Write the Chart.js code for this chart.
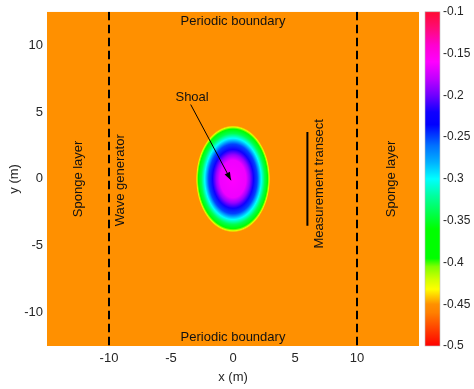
<!DOCTYPE html>
<html>
<head>
<meta charset="utf-8">
<script src="https://cdn.jsdelivr.net/npm/chart.js@4.4.1/dist/chart.umd.min.js"></script>
<style>
  html, body { margin: 0; padding: 0; background: #fff; }
  #wrap { width: 474px; height: 389px; }
</style>
</head>
<body>
<div id="wrap"><canvas id="bathy"></canvas></div>
<script>
// axis ranges and ticks
const xRange = [-15, 15];
const yRange = [-12.5, 12.5];
const cRange = [-0.5, -0.1];
const xTicks = [-10, -5, 0, 5, 10];
const yTicks = [-10, -5, 0, 5, 10];
const cTicks = [-0.5, -0.45, -0.4, -0.35, -0.3, -0.25, -0.2, -0.15, -0.1];

// bed elevation (m): flat bottom + elliptic shoal
const bedLevel = -0.45;
const shoalCenter = [0, 0];
const shoalAxes = [3, 4]; // semi-axes along x and y (m)
// profile read across the shoal: fraction of the ellipse radius -> level
const shoalR = [0, 0.35, 0.45, 0.55, 0.65, 0.76, 0.85, 0.93, 0.97, 1];
const shoalZ = [-0.16, -0.165, -0.19, -0.22, -0.25, -0.3, -0.34, -0.37, -0.425, -0.45];

// colormap
const cmapVal = [-0.5, -0.48, -0.46, -0.45, -0.445, -0.432, -0.42, -0.405, -0.395, -0.36, -0.34, -0.32, -0.3, -0.28, -0.26, -0.235, -0.22, -0.2, -0.18, -0.16, -0.14, -0.12, -0.1];
const cmapCol = ['#ff0000', '#ff4000', '#ff8000', '#ff9000', '#ffb000', '#ffff00', '#d0ff00', '#80ff00', '#00ff00', '#00ff00', '#00ff50', '#00ffa0', '#00ffff', '#00b0ff', '#0070ff', '#0000ff', '#1000ff', '#7000ff', '#c000ff', '#ff00ff', '#ff00d0', '#ff0a78', '#ff0a32'];

// overlay lines
const dashedX = [-10, 10];
const transectX = [6, 6];
const transectY = [-3.5, 3.5];
const arrowX = [-3.41, -0.16];
const arrowY = [5.56, -0.1];

const FONT = "'Liberation Sans', Arial, sans-serif";
const FS = 13;

// labels placed in data coordinates
const notes = [
  { text: 'Periodic boundary', x: 0, y: 11.75, rot: 0 },
  { text: 'Periodic boundary', x: 0, y: -11.85, rot: 0 },
  { text: 'Shoal', x: -3.3, y: 6.1, rot: 0 },
  { text: 'Sponge layer', x: -12.45, y: 0, rot: -90 },
  { text: 'Wave generator', x: -9.07, y: -0.1, rot: -90 },
  { text: 'Measurement transect', x: 6.95, y: -0.37, rot: -90 },
  { text: 'Sponge layer', x: 12.8, y: 0, rot: -90 }
];

function hexToRgb(h) {
  const n = parseInt(h.slice(1), 16);
  return [(n >> 16) & 255, (n >> 8) & 255, n & 255];
}

function cmap(v) {
  if (v <= cmapVal[0]) return cmapCol[0];
  for (let i = 1; i < cmapVal.length; i++) {
    if (v <= cmapVal[i]) {
      const t = (v - cmapVal[i - 1]) / (cmapVal[i] - cmapVal[i - 1]);
      const a = hexToRgb(cmapCol[i - 1]), b = hexToRgb(cmapCol[i]);
      const c = a.map((k, j) => Math.round(k + (b[j] - k) * t));
      return `rgb(${c[0]},${c[1]},${c[2]})`;
    }
  }
  return cmapCol[cmapCol.length - 1];
}

// background bed + shoal
const fieldPlugin = {
  id: 'field',
  beforeDatasetsDraw(chart) {
    const { ctx, chartArea: a, scales: { x, y } } = chart;
    ctx.save();
    ctx.beginPath();
    ctx.rect(a.left, a.top, a.width, a.height);
    ctx.clip();
    ctx.fillStyle = cmap(bedLevel);
    ctx.fillRect(a.left, a.top, a.width, a.height);

    const cx = x.getPixelForValue(shoalCenter[0]);
    const cy = y.getPixelForValue(shoalCenter[1]);
    const rx = Math.abs(x.getPixelForValue(shoalCenter[0] + shoalAxes[0]) - cx);
    const ry = Math.abs(y.getPixelForValue(shoalCenter[1] + shoalAxes[1]) - cy);
    ctx.translate(cx, cy);
    ctx.scale(rx, ry);
    const g = ctx.createRadialGradient(0, 0, 0, 0, 0, 1);
    shoalR.forEach((r, i) => g.addColorStop(r, cmap(shoalZ[i])));
    ctx.fillStyle = g;
    ctx.beginPath();
    ctx.arc(0, 0, 1, 0, Math.PI * 2);
    ctx.fill();
    ctx.restore();
  }
};

// text labels + arrow head
const notesPlugin = {
  id: 'notes',
  afterDatasetsDraw(chart) {
    const { ctx, scales: { x, y } } = chart;
    ctx.save();
    ctx.fillStyle = '#111';
    ctx.font = `${FS}px ${FONT}`;
    ctx.textAlign = 'center';
    ctx.textBaseline = 'middle';
    notes.forEach(n => {
      ctx.save();
      ctx.translate(x.getPixelForValue(n.x), y.getPixelForValue(n.y));
      ctx.rotate(n.rot * Math.PI / 180);
      ctx.fillText(n.text, 0, 0);
      ctx.restore();
    });

    // arrow head at the end of the arrow line
    const x0 = x.getPixelForValue(arrowX[0]), y0 = y.getPixelForValue(arrowY[0]);
    const x1 = x.getPixelForValue(arrowX[1]), y1 = y.getPixelForValue(arrowY[1]);
    const ang = Math.atan2(y1 - y0, x1 - x0);
    const len = 8, half = 3;
    ctx.translate(x1, y1);
    ctx.rotate(ang);
    ctx.fillStyle = '#000';
    ctx.beginPath();
    ctx.moveTo(0, 0);
    ctx.lineTo(-len, -half);
    ctx.lineTo(-len, half);
    ctx.closePath();
    ctx.fill();
    ctx.restore();
  }
};

// colorbar drawn in the right axis box
const colorbarPlugin = {
  id: 'colorbar',
  afterDraw(chart) {
    const { ctx, chartArea: a, scales: { c } } = chart;
    const top = c.getPixelForValue(cRange[1]);
    const bot = c.getPixelForValue(cRange[0]);
    const x0 = a.right + 6, w = 15;
    const g = ctx.createLinearGradient(0, bot, 0, top);
    cmapVal.forEach((v, i) => g.addColorStop((v - cRange[0]) / (cRange[1] - cRange[0]), cmapCol[i]));
    ctx.save();
    ctx.fillStyle = g;
    ctx.fillRect(x0, top, w, bot - top);
    ctx.strokeStyle = '#bdbdbd';
    ctx.lineWidth = 0.6;
    ctx.strokeRect(x0, top, w, bot - top);
    ctx.restore();
  }
};

const lineStyle = { showLine: true, pointRadius: 0, fill: false, borderColor: '#000' };

const datasets = [
  ...dashedX.map(v => ({
    ...lineStyle,
    data: [{ x: v, y: yRange[1] }, { x: v, y: yRange[0] }],
    borderWidth: 2,
    borderDash: [8.5, 4.5]
  })),
  {
    ...lineStyle,
    data: transectX.map((v, i) => ({ x: v, y: transectY[i] })),
    borderWidth: 2
  },
  {
    ...lineStyle,
    data: arrowX.map((v, i) => ({ x: v, y: arrowY[i] })),
    borderWidth: 1
  }
];

const tickFont = { family: FONT, size: FS };

new Chart(document.getElementById('bathy').getContext('2d'), {
  type: 'scatter',
  data: { datasets },
  options: {
    animation: false,
    responsive: true,
    maintainAspectRatio: false,
    devicePixelRatio: 1,
    layout: { padding: { top: 11, left: 0, right: 0, bottom: 0 } },
    plugins: {
      legend: { display: false },
      tooltip: { enabled: false }
    },
    scales: {
      x: {
        type: 'linear',
        min: xRange[0],
        max: xRange[1],
        grid: { display: false, drawTicks: false },
        border: { display: false },
        afterBuildTicks: s => { s.ticks = xTicks.map(v => ({ value: v })); },
        afterFit: s => { s.height = 43; },
        ticks: { color: '#262626', font: tickFont, padding: 5, maxRotation: 0, autoSkip: false },
        title: { display: true, text: 'x (m)', color: '#262626', font: tickFont, padding: { top: 0, bottom: 4 } }
      },
      y: {
        type: 'linear',
        min: yRange[0],
        max: yRange[1],
        grid: { display: false, drawTicks: false },
        border: { display: false },
        afterBuildTicks: s => { s.ticks = yTicks.map(v => ({ value: v })); },
        afterFit: s => { s.width = 47; },
        ticks: { color: '#262626', font: tickFont, padding: 4, autoSkip: false },
        title: { display: true, text: 'y (m)', color: '#262626', font: tickFont, padding: { top: 7, bottom: 0 } }
      },
      c: {
        type: 'linear',
        axis: 'y',
        position: 'right',
        min: cRange[0],
        max: cRange[1],
        // hidden tick marks still push the labels clear of the colorbar
        grid: { display: false, drawTicks: true, tickLength: 22 },
        border: { display: false },
        afterBuildTicks: s => { s.ticks = cTicks.map(v => ({ value: v })); },
        afterFit: s => { s.width = 55; },
        ticks: { color: '#262626', font: { family: FONT, size: 12 }, padding: 2, callback: v => String(v) }
      }
    }
  },
  plugins: [fieldPlugin, notesPlugin, colorbarPlugin]
});
</script>
</body>
</html>
